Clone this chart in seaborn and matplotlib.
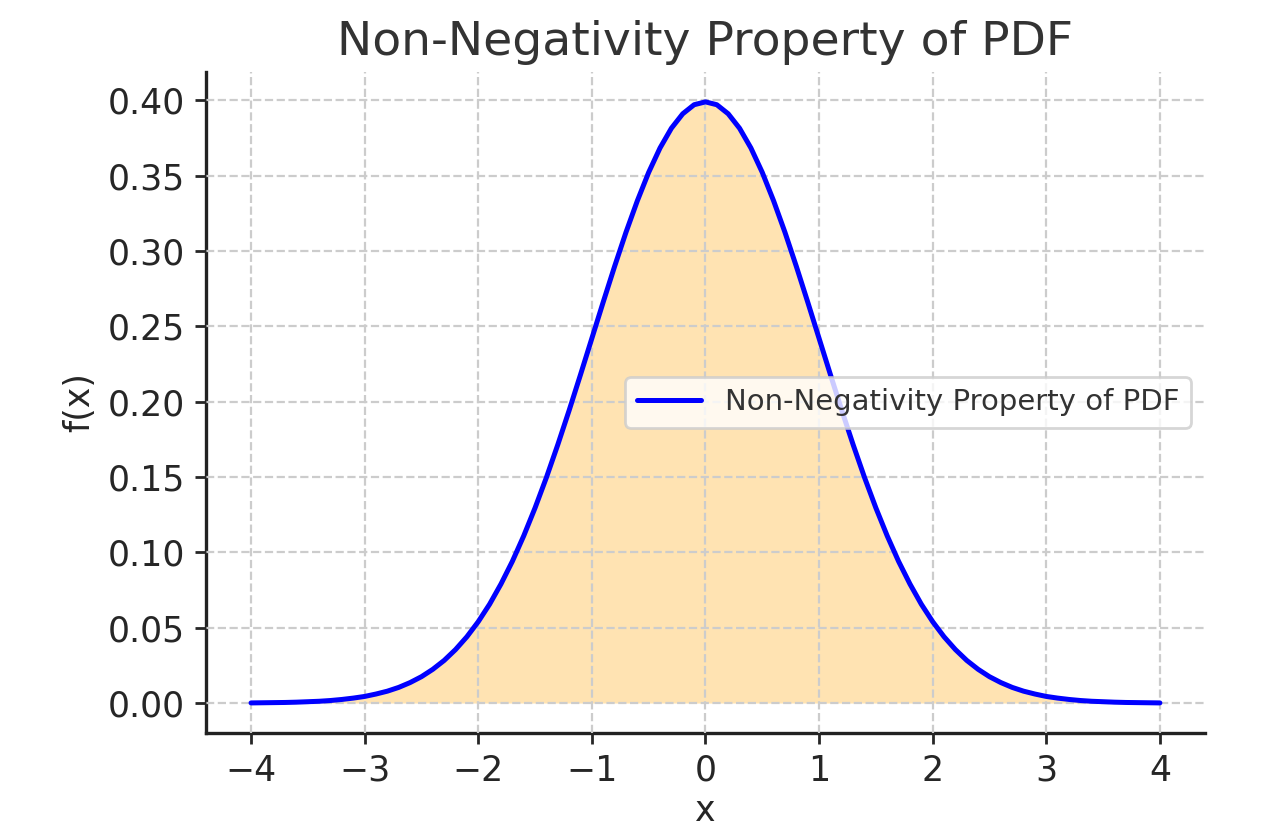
import numpy as np
import pandas as pd
import matplotlib
matplotlib.use("Agg")
import matplotlib.pyplot as plt
import seaborn as sns

# Values (x step 0.1)
x_vals = [-4.0, -3.9, -3.8, -3.7, -3.6, -3.5, -3.4, -3.3, -3.2, -3.1,
          -3.0, -2.9, -2.8, -2.7, -2.6, -2.5, -2.4, -2.3, -2.2, -2.1,
          -2.0, -1.9, -1.8, -1.7, -1.6, -1.5, -1.4, -1.3, -1.2, -1.1,
          -1.0, -0.9, -0.8, -0.7, -0.6, -0.5, -0.4, -0.3, -0.2, -0.1,
          0.0, 0.1, 0.2, 0.3, 0.4, 0.5, 0.6, 0.7, 0.8, 0.9,
          1.0, 1.1, 1.2, 1.3, 1.4, 1.5, 1.6, 1.7, 1.8, 1.9,
          2.0, 2.1, 2.2, 2.3, 2.4, 2.5, 2.6, 2.7, 2.8, 2.9,
          3.0, 3.1, 3.2, 3.3, 3.4, 3.5, 3.6, 3.7, 3.8, 3.9, 4.0]
fx_vals = [0.0001, 0.0002, 0.0003, 0.0004, 0.0006, 0.0009, 0.0012, 0.0017, 0.0024, 0.0033,
           0.0044, 0.0060, 0.0079, 0.0104, 0.0136, 0.0175, 0.0224, 0.0283, 0.0355, 0.0440,
           0.0540, 0.0656, 0.0790, 0.0940, 0.1109, 0.1295, 0.1497, 0.1714, 0.1942, 0.2179,
           0.2420, 0.2661, 0.2897, 0.3123, 0.3332, 0.3521, 0.3683, 0.3814, 0.3910, 0.3970,
           0.3989, 0.3970, 0.3910, 0.3814, 0.3683, 0.3521, 0.3332, 0.3123, 0.2897, 0.2661,
           0.2420, 0.2179, 0.1942, 0.1714, 0.1497, 0.1295, 0.1109, 0.0940, 0.0790, 0.0656,
           0.0540, 0.0440, 0.0355, 0.0283, 0.0224, 0.0175, 0.0136, 0.0104, 0.0079, 0.0060,
           0.0044, 0.0033, 0.0024, 0.0017, 0.0012, 0.0009, 0.0006, 0.0004, 0.0003, 0.0002, 0.0001]
label = "Non-Negativity Property of PDF"

df = pd.DataFrame({"x": x_vals, "f(x)": fx_vals})

sns.set_theme(style="whitegrid")
plt.rcParams["font.family"] = ["DejaVu Sans"]
plt.rcParams["grid.linestyle"] = "--"
plt.rcParams["grid.color"] = "#cccccc"
plt.rcParams["grid.linewidth"] = 0.8

fig = plt.figure(figsize=(6.425, 4.175), dpi=200)
ax = fig.add_axes([0.16, 0.122, 0.778, 0.792])
ax.set_axisbelow(False)

ax.fill_between(df["x"], df["f(x)"], color="orange", alpha=0.3, linewidth=0, zorder=1)
sns.lineplot(data=df, x="x", y="f(x)", ax=ax, color="blue", linewidth=1.8, label=label, zorder=3)

ax.set_title(label, fontsize=17, color="#333333")
ax.set_xlabel("x", fontsize=12.5, color="#262626", labelpad=2)
ax.set_ylabel("f(x)", fontsize=12.5, color="#262626")
ax.set_yticks([0.0, 0.05, 0.10, 0.15, 0.20, 0.25, 0.30, 0.35, 0.40])
ax.yaxis.set_major_formatter(matplotlib.ticker.FormatStrFormatter("%.2f"))
ax.margins(x=0.05, y=0.05)
ax.tick_params(axis="both", labelsize=12.5, colors="#262626", length=4, width=1,
               direction="out", left=True, bottom=True)
ax.grid(True, zorder=2)

for side in ["top", "right"]:
    ax.spines[side].set_visible(False)
for side in ["left", "bottom"]:
    ax.spines[side].set_color("#222222")
    ax.spines[side].set_linewidth(1.2)

leg = ax.legend(loc="center right", fontsize=10.5, frameon=True, labelcolor="#333333",
                handlelength=2.2)
leg.set_zorder(5)

fig.savefig("out.png", dpi=200)
